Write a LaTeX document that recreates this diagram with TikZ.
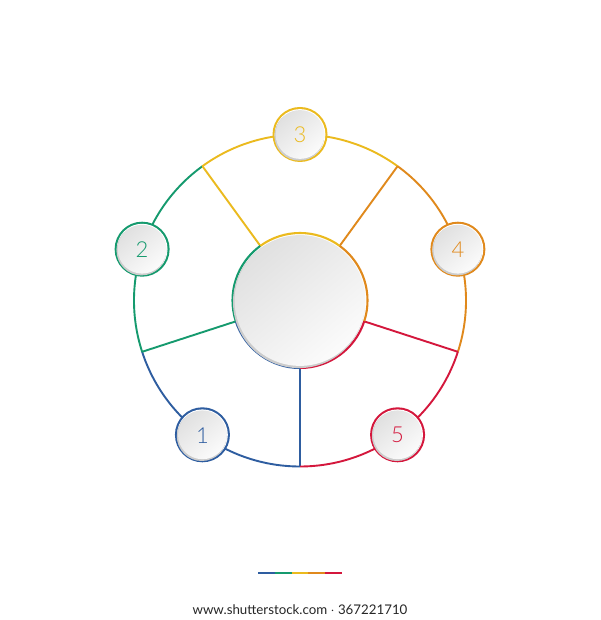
\documentclass[tikz,border=0pt]{standalone}
\usepackage{fontspec}
\setmainfont{Lato}
\newfontfamily\digitfont{Lato Light}
\definecolor{cBlue}{HTML}{2E5DA0}
\definecolor{cGreen}{HTML}{159A6E}
\definecolor{cYellow}{HTML}{EBBA1E}
\definecolor{cOrange}{HTML}{E0891C}
\definecolor{cRed}{HTML}{D4173C}
\begin{document}
\begin{tikzpicture}[x=1pt,y=1pt,
  seg/.style={line width=1.9pt},
  digit/.style={font=\digitfont\fontsize{22}{22}\selectfont, inner sep=0pt},
  plate/.style={circle, minimum size=55pt, inner sep=0pt}]
\useasboundingbox[fill=white] (0,0) rectangle (600,620);
\coordinate (o) at (300,319.5);
% outer ring arcs and spokes
\foreach \n/\col in {1/cBlue,2/cGreen,3/cYellow,4/cOrange,5/cRed}{
  \pgfmathsetmacro\a{234-72*(\n-1)}
  \coordinate (in\n) at ([shift={(\a+36:67)}]o);
  \coordinate (out\n) at ([shift={(\a+36:166)}]o);
  \draw[seg,\col] ([shift={(\a-36:166)}]o) arc[start angle=\a-36,end angle=\a+36,radius=166];
  \draw[seg,\col] (in\n) -- (out\n);
}
% centre circle
\foreach \n/\col in {1/cBlue,2/cGreen,3/cYellow,4/cOrange,5/cRed}{
  \pgfmathsetmacro\a{234-72*(\n-1)}
  \draw[line width=2.1pt,\col] ([shift={(\a-36:67.5)}]o) arc[start angle=\a-36,end angle=\a+36,radius=67.5];
}
\fill[gray!40] ([shift={(-1,-1.6)}]o) circle (66);
\shade[top color=gray!24, bottom color=gray!3, shading angle=40] (o) circle (65.4);
\node[circle, minimum size=136pt, inner sep=0pt] (hub) at (o) {};
% numbered plates
\foreach \n/\col in {1/cBlue,2/cGreen,3/cYellow,4/cOrange,5/cRed}{
  \pgfmathsetmacro\a{234-72*(\n-1)}
  \node[plate] (n\n) at ([shift={(\a:166)}]o) {};
  \fill[\col] (n\n.center) circle (27.5);
  \fill[white] (n\n.center) circle (25.4);
  \fill[gray!40] ([shift={(-0.7,-1.3)}]n\n.center) circle (24.9);
  \shade[top color=gray!24, bottom color=gray!3, shading angle=40] (n\n.center) circle (24.4);
  \node[digit, text=\col] (t\n) at ([yshift=-0.5]n\n.center) {\n};
}
% footer bar
\foreach \n/\col in {0/cBlue,1/cGreen,2/cYellow,3/cOrange,4/cRed}{
  \coordinate (b\n) at (258+16.8*\n,47);
  \coordinate (e\n) at (258+16.8*\n+16.8,47);
  \draw[line width=2.2pt,\col] (b\n) -- (e\n);
}
\node[font=\fontsize{13.3}{13.3}\selectfont, text=black!85, inner sep=0pt] (foot) at (300,10) {www.shutterstock.com $\cdot$ 367221710};
\end{tikzpicture}
\end{document}
